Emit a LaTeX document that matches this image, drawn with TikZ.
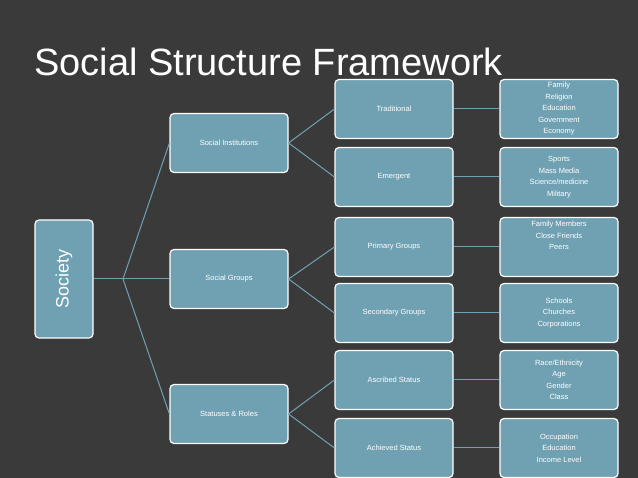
\documentclass[tikz,border=0pt]{standalone}
\usepackage{fontspec}
\setmainfont{Liberation Sans}
\begin{document}
\begin{tikzpicture}[x=1pt,y=-1pt,
  bx/.style={draw=white,line width=1.2pt,fill=boxc,rounded corners=4pt,minimum width=118pt,minimum height=59pt,text=white,font=\fontsize{7.5}{11.5}\selectfont,align=center,inner sep=1pt},
  ln/.style={draw=boxc,line width=1pt}]
\definecolor{boxc}{RGB}{112,161,178}
\definecolor{bg}{RGB}{58,58,58}
\fill[bg] (0,0) rectangle (638,478);
\useasboundingbox (0,0) rectangle (638,478);
\node[anchor=base west,text=white,font=\fontsize{38}{38}\selectfont,inner sep=0] (title) at (34,76) {Social Structure Framework};
\node[bx,minimum width=58pt,minimum height=118pt] (soc) at (64,279) {};
\node[rotate=90,text=white,font=\fontsize{18}{18}\selectfont] (soct) at (64,279) {Society};
\node[bx] (si) at (229,143) {Social Institutions};
\node[bx] (sg) at (229,279) {Social Groups};
\node[bx] (sr) at (229,414) {Statuses \& Roles};
\node[bx] (tr) at (394,109) {Traditional};
\node[bx] (em) at (394,177) {Emergent};
\node[bx] (pg) at (394,247) {Primary Groups};
\node[bx] (sc) at (394,313) {Secondary Groups};
\node[bx] (as) at (394,380) {Ascribed Status};
\node[bx] (ac) at (394,448) {Achieved Status};
\node[bx] (l1) at (559,109) {Family\\Religion\\Education\\Government\\Economy};
\node[bx] (l2) at (559,177) {Sports\\Mass Media\\Science/medicine\\Military};
\node[bx] (l3) at (559,247) {Family Members\\Close Friends\\Peers\\[11pt]};
\node[bx] (l4) at (559,313) {Schools\\Churches\\Corporations};
\node[bx] (l5) at (559,380) {Race/Ethnicity\\Age\\Gender\\Class};
\node[bx] (l6) at (559,448) {Occupation\\Education\\Income Level};
\coordinate (j) at (123,279);
\draw[ln] (soc.east) -- (j);
\foreach \t in {si,sg,sr} \draw[ln] (j) -- (\t.west);
\foreach \a/\b in {si/tr,si/em,sg/pg,sg/sc,sr/as,sr/ac} \draw[ln] (\a.east) -- (\b.west);
\foreach \a/\b in {tr/l1,em/l2,pg/l3,sc/l4,as/l5,ac/l6} \draw[ln] (\a.east) -- (\b.west);
\end{tikzpicture}
\end{document}
